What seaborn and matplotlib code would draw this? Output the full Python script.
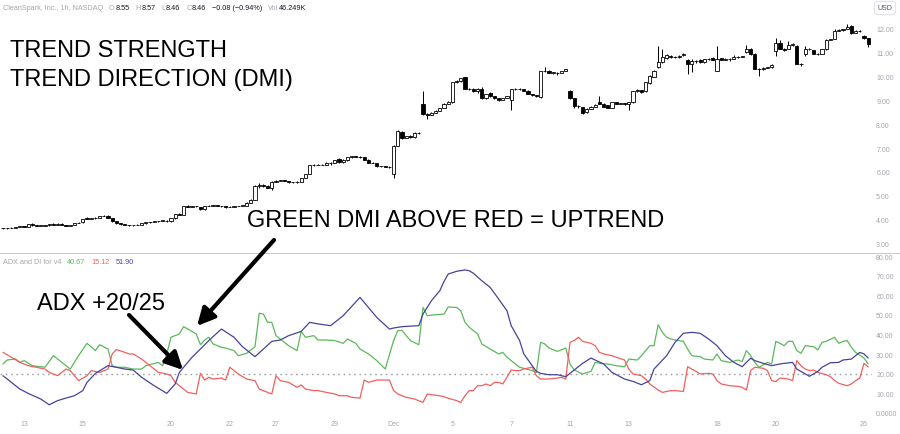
import numpy as np
import pandas as pd
import matplotlib
matplotlib.use("Agg")
import matplotlib.pyplot as plt
import seaborn as sns
from matplotlib.offsetbox import TextArea, HPacker, AnchoredOffsetbox
from matplotlib.lines import Line2D
from matplotlib.patches import FancyArrowPatch

# ---------------- data ----------------
open_ = [
 3.62,3.63,3.63,3.65,3.67,3.71,3.70,3.81,3.75,3.74,
 3.74,3.75,3.81,3.77,3.82,3.77,3.74,3.77,3.84,3.87,
 4.06,4.03,4.04,4.07,4.14,4.16,4.05,3.92,3.84,3.79,
 3.76,3.75,3.76,3.78,3.83,3.87,3.88,3.92,3.94,3.95,
 3.92,4.04,4.24,4.20,4.57,4.53,4.55,4.53,4.42,4.56,
 4.58,4.58,4.57,4.55,4.52,4.54,4.56,4.57,4.58,4.70,
 4.82,5.40,5.44,5.42,5.32,5.58,5.63,5.64,5.62,5.57,
 5.57,5.58,5.73,5.91,6.29,6.30,6.29,6.30,6.35,6.37,
 6.54,6.40,6.48,6.61,6.66,6.64,6.62,6.50,6.38,6.37,
 6.23,6.24,6.22,5.91,7.10,7.68,7.41,7.52,7.45,7.63,
 8.85,8.43,8.39,8.47,8.55,8.67,8.85,8.92,9.76,9.80,
 9.97,9.48,9.50,9.38,9.50,9.09,9.32,9.18,9.08,9.02,
 9.10,9.00,9.48,9.49,9.47,9.40,9.27,9.22,9.16,10.22,
 10.23,10.16,10.16,10.15,10.23,9.41,9.09,8.76,8.71,8.50,
 8.64,8.74,8.93,8.85,8.80,8.68,8.92,8.86,8.88,8.84,
 8.92,9.38,9.42,9.38,9.72,10.00,10.39,10.60,10.78,10.86,
 10.82,10.84,10.90,10.70,10.53,10.65,10.70,10.60,10.74,10.80,
 10.25,10.78,10.70,10.74,10.76,10.82,10.84,11.02,11.14,10.95,
 10.32,10.32,10.38,10.40,11.09,11.40,11.16,11.16,11.34,11.30,
 10.53,10.95,11.16,11.10,10.95,10.96,11.15,11.54,11.60,11.93,
 11.95,12.00,12.13,11.84,11.92,11.70,11.62]

high_ = [
 3.65,3.65,3.66,3.69,3.72,3.73,3.82,3.84,3.77,3.76,
 3.76,3.82,3.83,3.83,3.83,3.78,3.78,3.86,3.88,4.03,
 4.08,4.06,4.09,4.16,4.18,4.17,4.06,3.93,3.85,3.80,
 3.78,3.77,3.79,3.84,3.88,3.90,3.94,3.95,3.96,3.96,
 4.06,4.24,4.27,4.58,4.60,4.57,4.57,4.54,4.58,4.60,
 4.60,4.59,4.58,4.56,4.55,4.57,4.58,4.60,4.72,4.84,
 5.44,5.55,5.50,5.45,5.62,5.66,5.67,5.66,5.63,5.59,
 5.60,5.75,5.92,6.30,6.33,6.32,6.32,6.40,6.40,6.50,
 6.56,6.52,6.63,6.68,6.68,6.66,6.63,6.52,6.41,6.38,
 6.26,6.26,6.24,7.12,7.75,7.72,7.52,7.54,7.66,7.67,
 9.40,8.47,8.50,8.58,8.69,8.87,8.97,9.79,9.85,9.95,
 10.00,9.52,9.52,9.52,9.58,9.28,9.34,9.20,9.10,9.12,
 9.20,9.50,9.52,9.51,9.48,9.42,9.28,9.24,10.24,10.42,
 10.26,10.19,10.18,10.25,10.32,9.43,9.12,8.80,8.73,8.66,
 8.76,8.83,9.20,8.87,8.82,8.94,8.93,8.88,8.89,8.94,
 9.40,9.46,9.44,9.78,10.06,10.27,11.30,11.16,10.95,10.92,
 10.88,10.92,10.98,10.74,10.75,10.70,10.72,10.76,10.78,10.84,
 11.30,10.80,10.78,10.80,10.92,10.86,10.87,11.34,11.20,10.98,
 10.36,10.40,10.42,10.52,11.62,11.55,11.20,11.48,11.40,11.32,
 10.56,11.30,11.20,11.12,10.98,11.17,11.56,11.60,12.00,11.98,
 12.02,12.20,12.16,11.96,11.94,11.76,11.64]

low_ = [
 3.60,3.61,3.62,3.64,3.66,3.69,3.69,3.74,3.73,3.72,
 3.72,3.74,3.76,3.76,3.76,3.73,3.73,3.76,3.83,3.86,
 4.01,4.01,4.02,4.06,4.13,4.05,3.90,3.82,3.77,3.75,
 3.74,3.73,3.75,3.77,3.82,3.85,3.87,3.91,3.92,3.90,
 3.91,4.03,4.17,4.19,4.51,4.52,4.53,4.40,4.41,4.55,
 4.56,4.55,4.53,4.48,4.51,4.53,4.55,4.56,4.57,4.69,
 4.80,5.30,5.38,5.30,5.22,5.57,5.61,5.60,5.55,5.55,
 5.55,5.56,5.72,5.90,6.26,6.27,6.27,6.29,6.30,6.36,
 6.38,6.39,6.47,6.60,6.62,6.60,6.49,6.37,6.35,6.21,
 6.21,6.20,6.18,5.73,7.08,7.38,7.40,7.44,7.44,7.60,
 8.40,8.22,8.37,8.45,8.54,8.66,8.84,8.90,9.74,9.78,
 9.46,9.44,9.36,9.32,9.07,9.07,9.16,9.06,8.98,9.00,
 9.08,8.60,9.45,9.45,9.38,9.26,9.20,9.16,9.12,10.18,
 10.14,10.12,10.05,10.14,10.22,9.07,8.70,8.70,8.44,8.48,
 8.63,8.72,8.84,8.72,8.66,8.66,8.84,8.84,8.82,8.60,
 8.90,9.36,9.33,9.36,9.70,9.98,10.37,10.58,10.76,10.80,
 10.80,10.80,10.88,10.11,10.20,10.58,10.58,10.58,10.70,10.68,
 10.22,10.68,10.68,10.64,10.74,10.80,10.81,10.98,10.90,10.30,
 10.04,10.28,10.36,10.38,10.88,11.14,11.08,11.14,11.30,10.52,
 10.44,10.85,11.12,10.94,10.92,10.94,11.13,11.52,11.58,11.91,
 11.93,11.98,11.80,11.82,11.88,11.56,11.24]

close_ = [
 3.63,3.63,3.65,3.67,3.71,3.70,3.80,3.75,3.74,3.74,
 3.75,3.81,3.77,3.82,3.77,3.74,3.77,3.84,3.86,4.02,
 4.03,4.04,4.07,4.14,4.16,4.06,3.92,3.84,3.79,3.76,
 3.75,3.76,3.78,3.83,3.87,3.88,3.92,3.94,3.95,3.92,
 4.04,4.22,4.19,4.55,4.53,4.55,4.55,4.42,4.56,4.58,
 4.58,4.57,4.55,4.52,4.54,4.56,4.57,4.58,4.70,4.82,
 5.40,5.44,5.42,5.32,5.58,5.63,5.64,5.62,5.57,5.57,
 5.58,5.73,5.91,6.29,6.30,6.29,6.30,6.35,6.37,6.48,
 6.40,6.48,6.61,6.66,6.64,6.62,6.50,6.38,6.37,6.23,
 6.24,6.22,6.20,7.10,7.73,7.41,7.50,7.45,7.63,7.64,
 8.43,8.39,8.47,8.55,8.67,8.85,8.95,9.76,9.80,9.93,
 9.48,9.48,9.38,9.48,9.09,9.25,9.18,9.08,9.02,9.10,
 9.18,9.48,9.49,9.47,9.40,9.27,9.22,9.20,10.22,10.23,
 10.16,10.16,10.15,10.23,10.30,9.09,8.76,8.76,8.46,8.64,
 8.74,8.80,8.85,8.74,8.68,8.92,8.86,8.86,8.84,8.92,
 9.38,9.42,9.35,9.76,10.04,10.25,10.60,10.84,10.90,10.82,
 10.84,10.86,10.95,10.53,10.67,10.64,10.60,10.74,10.76,10.70,
 10.74,10.70,10.74,10.76,10.82,10.84,10.84,11.16,10.93,10.32,
 10.32,10.38,10.40,10.50,11.40,11.16,11.12,11.34,11.34,10.53,
 10.53,11.16,11.16,10.95,10.96,11.15,11.54,11.56,11.93,11.95,
 11.98,12.10,11.82,11.93,11.90,11.62,11.38]

# +DI (green) vertices: bar index, value
plus_di_bar = [0,1,3,4,5,7,10,12,14,16,18,20,22,23,25,26,27,29,31,33,34,37,38,39,40,42,43,45,46,47,48,49,50,52,53,55,56,58,60,61,62,63,64,65,66,68,70,71,72,74,75,77,79,81,82,84,85,87,89,91,93,94,95,97,99,100,101,103,105,106,108,109,110,111,113,114,116,118,119,120,122,123,126,127,128,129,130,132,134,135,136,138,140,141,143,144,146,148,149,151,152,154,155,156,157,158,159,160,162,163,164,166,167,169,170,171,173,175,176,177,178,179,180,182,183,184,185,186,187,188,189,190,191,193,194,195,196,198,199,200,201,202,203,205,206]
plus_di = [25.0,27.0,27.5,25.8,26.7,24.1,23.3,29.2,25.8,22.4,29.2,35.5,31.8,34.8,32.6,24.1,23.3,23.3,22.4,22.4,24.1,25.8,24.1,30.1,38.6,40.3,44.0,41.6,40.3,34.8,37.2,38.6,35.2,33.5,33.1,31.8,29.2,30.4,33.8,50.8,50.4,46.2,46.2,39.4,37.7,34.3,31.8,41.6,38.6,39.4,37.2,37.2,36.9,35.5,37.7,35.5,32.6,30.1,26.7,22.4,36.9,42.0,42.0,36.9,34.8,53.8,49.6,50.1,50.4,54.0,53.8,52.1,46.2,43.7,40.3,35.2,32.6,30.1,30.9,28.4,25.0,23.3,21.6,20.7,36.0,35.2,33.1,31.4,33.1,25.0,21.9,19.9,21.2,25.8,25.0,25.0,24.1,23.6,27.5,27.0,29.2,34.3,34.3,45.0,41.1,38.6,37.7,37.2,36.5,32.6,29.2,28.7,27.5,27.0,30.1,26.7,25.8,27.0,26.2,31.8,29.2,25.8,23.3,25.8,25.0,36.5,35.5,34.3,36.5,36.5,31.8,30.4,34.3,33.8,32.1,36.0,36.5,38.6,35.5,36.5,36.9,33.5,30.9,28.0,25.0]

# -DI (red) vertices
minus_di_bar = [0,2,4,6,10,11,13,15,16,18,20,21,23,25,26,27,29,30,31,33,35,37,39,40,41,43,44,46,47,48,49,50,52,53,54,55,56,58,60,61,63,64,65,66,68,70,71,72,74,75,77,79,80,82,83,85,86,87,89,91,92,93,94,95,96,98,100,101,102,104,105,106,108,109,110,111,112,113,114,115,116,117,118,119,121,122,123,124,125,126,127,128,130,132,133,134,135,136,137,138,140,141,142,143,145,146,148,149,150,152,153,154,156,157,159,160,162,163,164,165,166,168,169,170,171,173,175,176,177,178,179,181,182,183,184,185,187,188,189,190,191,192,193,194,196,197,198,199,201,202,203,204,205,206]
minus_di = [30.9,28.4,25.8,24.1,22.4,20.7,19.0,22.4,21.6,16.5,19.0,21.6,20.7,22.4,30.1,32.3,30.9,30.1,30.1,27.5,24.1,20.7,19.9,19.0,15.6,12.2,10.5,9.7,20.2,16.8,18.2,17.3,17.8,16.8,23.3,21.6,19.9,17.3,16.5,12.2,10.5,9.7,19.0,16.5,15.6,13.1,14.3,12.2,11.4,11.4,10.5,9.7,8.8,8.8,8.0,7.6,16.8,15.6,16.8,16.8,16.8,11.4,9.7,8.8,8.0,7.1,5.4,9.7,9.3,8.8,8.3,7.5,6.3,5.4,8.8,11.4,11.4,13.9,13.9,14.8,13.9,15.6,15.6,14.8,21.9,21.6,21.6,22.4,22.9,23.3,19.0,17.3,17.3,17.8,18.2,17.3,36.0,36.9,38.6,36.5,35.5,34.3,30.9,30.1,29.2,28.4,27.0,22.4,19.9,19.0,17.3,14.8,11.7,10.5,11.4,11.4,11.0,23.6,22.4,21.2,19.9,20.2,19.9,16.5,14.8,13.9,13.6,13.1,11.7,21.6,23.3,22.8,21.6,16.5,16.0,17.8,17.3,16.5,26.7,24.1,22.4,21.6,21.9,20.7,19.5,18.5,16.5,15.1,13.9,14.8,16.5,17.8,25.3,23.5]

# ADX (blue) vertices
adx_bar = [0,2,4,6,9,11,13,15,17,19,20,22,25,27,29,31,33,36,39,41,42,43,45,47,49,52,55,57,60,62,64,66,68,71,73,75,78,81,85,87,89,92,93,95,99,100,102,104,105,106,108,110,111,112,114,116,118,120,121,123,124,126,127,128,130,132,134,136,138,140,143,145,148,150,152,154,155,158,160,162,164,166,168,170,172,174,176,177,178,179,181,183,185,186,188,189,192,194,195,197,199,200,202,204,205,206]
adx = [19.0,15.6,12.2,10.0,7.1,4.2,6.3,7.6,8.8,11.4,15.6,20.2,24.1,23.3,22.4,21.9,18.2,13.9,10.0,14.8,20.7,23.3,28.4,32.6,36.9,42.8,38.6,33.8,28.7,32.6,36.5,37.2,39.4,41.6,46.2,45.4,44.5,49.6,58.9,53.8,48.7,42.8,43.3,44.0,44.5,50.4,57.2,62.3,67.0,70.8,72.2,72.9,72.5,71.2,67.4,64.0,58.1,52.1,44.5,36.9,30.1,24.1,21.2,20.2,19.5,19.5,18.5,21.9,25.3,28.0,25.0,20.7,17.3,16.1,14.4,16.5,22.4,29.2,36.0,40.6,41.1,40.6,37.7,34.3,29.2,25.8,23.6,25.8,27.9,26.7,25.3,24.1,25.0,25.3,25.8,22.4,18.7,21.2,23.3,25.6,25.8,27.0,27.5,30.9,30.1,28.0]

day_ticks = [5, 19, 40, 54, 65, 79, 93, 107, 121, 135, 149, 170, 184, 205]
day_labels = ["13", "15", "20", "22", "27", "29", "Dec", "5", "7", "11", "13", "18", "20", "26"]
price_ticks = [3, 4, 5, 6, 7, 8, 9, 10, 11, 12]
price_labels = ["3.00", "4.00", "5.00", "6.00", "7.00", "8.00", "9.00", "10.00", "11.00", "12.00"]
adx_ticks = [0, 10, 20, 30, 40, 50, 60, 70, 80]
adx_labels = ["0.0000", "10.00", "20.00", "30.00", "40.00", "50.00", "60.00", "70.00", "80.00"]
adx_level = 20

# ---------------- style ----------------
sns.set_theme(style="white")
FONT = ["Liberation Sans", "DejaVu Sans"]
plt.rcParams["font.family"] = FONT

GREEN = "#5cb85c"
RED = "#f0605d"
BLUE = "#45449a"
GREY = "#a3a6ad"
DARK = "#131722"

W, H = 900, 435
fig = plt.figure(figsize=(9, 4.35), dpi=100)
fig.patch.set_facecolor("white")

def fx(px):
    return px / W

def fy(py):
    return 1 - py / H

ax1 = fig.add_axes([0, fy(254), fx(872), 254 / H])
ax2 = fig.add_axes([0, fy(415), fx(872), (415 - 254) / H])

xlim = (-3 / 4.2, 869 / 4.2)

# ---------------- candles ----------------
o = np.array(open_); c = np.array(close_); h = np.array(high_); l = np.array(low_)
xb = np.arange(len(c))
up = c >= o
bottom = np.minimum(o, c)
height = np.maximum(np.abs(c - o), 0.015)
ax1.vlines(xb, l, h, color="black", lw=0.7, zorder=1)
ax1.bar(xb[up], height[up], bottom=bottom[up], width=0.72, color="white",
        edgecolor="black", linewidth=0.6, zorder=2)
ax1.bar(xb[~up], height[~up], bottom=bottom[~up], width=0.72, color="black",
        edgecolor="black", linewidth=0.6, zorder=2)
ax1.set_xlim(*xlim)
ax1.set_ylim(12 - 224 / 23.8, 12 + 30 / 23.8)
ax1.yaxis.tick_right()
ax1.set_yticks(price_ticks)
ax1.set_yticklabels(price_labels)
ax1.set_xticks([])
ax1.tick_params(axis="y", length=0, pad=3, labelsize=5, labelcolor=GREY)

# ---------------- ADX / DI ----------------
df = pd.concat([
    pd.DataFrame({"bar": plus_di_bar, "value": plus_di, "series": "+DI"}),
    pd.DataFrame({"bar": minus_di_bar, "value": minus_di, "series": "-DI"}),
    pd.DataFrame({"bar": adx_bar, "value": adx, "series": "ADX"}),
], ignore_index=True)
ax2.axhline(adx_level, color="#a0a0a0", lw=1.0, linestyle=(0, (1.2, 2.6)), zorder=1)
sns.lineplot(data=df, x="bar", y="value", hue="series",
             palette={"+DI": GREEN, "-DI": RED, "ADX": BLUE},
             estimator=None, linewidth=0.9, legend=False, ax=ax2, zorder=3)
ax2.set_xlim(*xlim)
ax2.set_ylim(-1 / 1.9625, 160 / 1.9625)
ax2.yaxis.tick_right()
ax2.set_yticks(adx_ticks)
ax2.set_yticklabels(adx_labels)
ax2.set_xticks(day_ticks)
ax2.set_xticklabels(day_labels)
ax2.set_xlabel("")
ax2.set_ylabel("")
ax2.tick_params(axis="y", length=0, pad=3, labelsize=5, labelcolor=GREY)
ax2.tick_params(axis="x", length=0, pad=4, labelsize=5, labelcolor=GREY)

for ax in (ax1, ax2):
    for s in ax.spines.values():
        s.set_visible(False)
    ax.grid(False)
    ax.set_facecolor("none")

# separator between panes
fig.add_artist(Line2D([0, 1], [fy(254), fy(254)], transform=fig.transFigure,
                      color="#c8cad0", lw=0.8))

# ---------------- header legends ----------------
def packed(groups, x_px, y_px, size=5.2):
    boxes = []
    for grp in groups:
        kids = [TextArea(s, textprops=dict(color=col, fontsize=size, family=FONT))
                for s, col in grp]
        boxes.append(HPacker(children=kids, align="baseline", pad=0, sep=0.5))
    box = HPacker(children=boxes, align="baseline", pad=0, sep=4.2)
    anch = AnchoredOffsetbox(loc="center left", child=box, pad=0, borderpad=0,
                             frameon=False, bbox_to_anchor=(fx(x_px), fy(y_px)),
                             bbox_transform=fig.transFigure)
    fig.add_artist(anch)

packed([[("CleanSpark, Inc., 1h, NASDAQ", GREY)],
        [("O", GREY), ("8.55", DARK)],
        [("H", GREY), ("8.57", DARK)],
        [("L", GREY), ("8.46", DARK)],
        [("C", GREY), ("8.46", DARK)],
        [("\u22120.08 (\u22120.94%)", DARK)],
        [("Vol", GREY), ("46.249K", DARK)]], 3, 8)

packed([[("ADX and DI for v4", GREY)],
        [("40.67", GREEN)],
        [("15.12", RED)],
        [("51.90", BLUE)]], 3, 263)

fig.text(fx(885), fy(9), "USD", ha="center", va="center", fontsize=5, color="#50535e",
         bbox=dict(boxstyle="round,pad=0.45", fc="white", ec="#e0e3eb", lw=0.8))

# ---------------- annotations ----------------
BIG = 17
fig.text(fx(10), fy(57), "TREND STRENGTH", fontsize=BIG, color="black", va="baseline")
fig.text(fx(10), fy(86), "TREND DIRECTION (DMI)", fontsize=BIG, color="black", va="baseline")
fig.text(fx(247), fy(227), "GREEN DMI ABOVE RED = UPTREND", fontsize=BIG, color="black", va="baseline")
fig.text(fx(37), fy(310), "ADX +20/25", fontsize=BIG, color="black", va="baseline")

for (x0, y0), (x1, y1) in [((274, 241), (197, 327)), ((129, 316), (183, 371))]:
    arr = FancyArrowPatch((fx(x0), fy(y0)), (fx(x1), fy(y1)), transform=fig.transFigure,
                          arrowstyle="-|>,head_length=0.7,head_width=0.35",
                          mutation_scale=15, lw=3, color="black",
                          shrinkA=0, shrinkB=0, zorder=10)
    fig.add_artist(arr)

fig.savefig("out.png", dpi=100, facecolor="white")
